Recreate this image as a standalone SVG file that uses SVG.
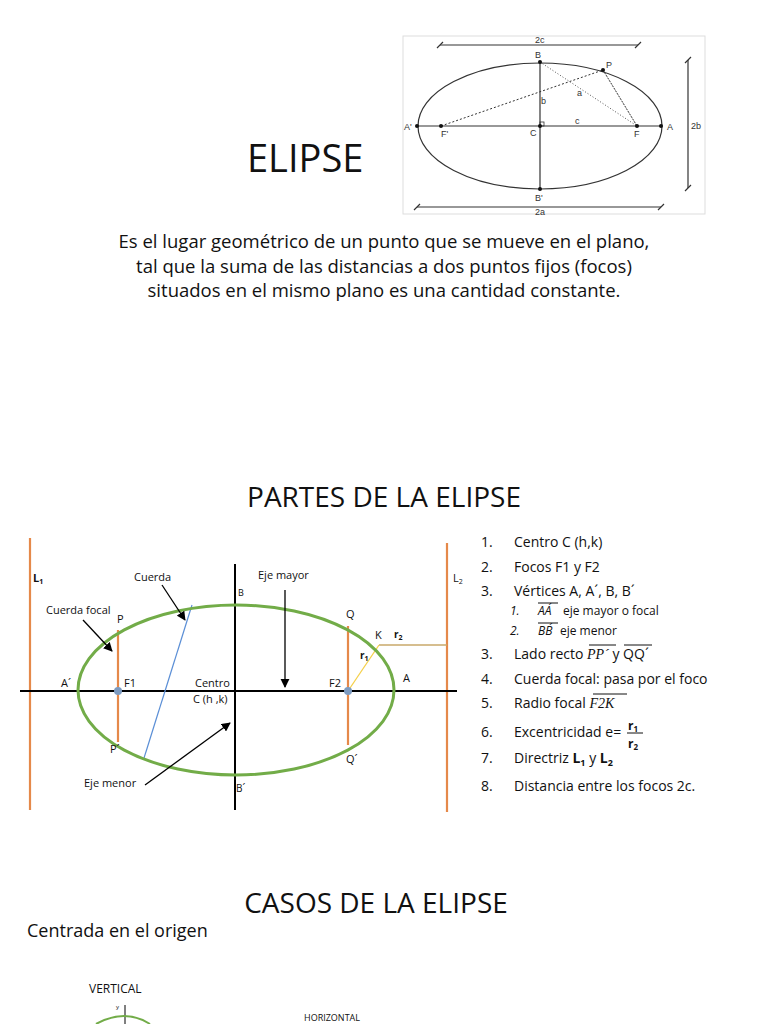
<svg xmlns="http://www.w3.org/2000/svg" width="768" height="1024" viewBox="0 0 768 1024">
<style>
text{font-family:"Open Sans","Noto Sans",sans-serif;fill:#111}
.s{font-family:"Liberation Sans",sans-serif;font-size:9px;fill:#333}
.k{stroke:#333;stroke-width:1.2;fill:none}
.o{stroke:#e5894a;stroke-width:2.2;fill:none}
.lb{font-size:11px}
.li{font-size:14px}
</style>
<defs><marker id="ar" viewBox="0 0 10 10" refX="9" refY="5" markerWidth="7" markerHeight="7" orient="auto"><path d="M0,0L10,5L0,10z" fill="#000"/></marker></defs>
<rect width="768" height="1024" fill="#fff"/>
<text x="247" y="172" font-size="38">ELIPSE</text>
<g id="fig1">
<rect x="403" y="36" width="302" height="178" fill="#fff" stroke="#ddd"/>
<ellipse class="k" cx="540" cy="126" rx="122" ry="63"/>
<line class="k" x1="417" y1="126" x2="661" y2="126"/>
<line class="k" x1="540" y1="62" x2="540" y2="189"/>
<line x1="441" y1="126" x2="603" y2="70" stroke="#333" stroke-dasharray="2,2"/>
<line x1="603" y1="70" x2="637" y2="126" stroke="#333" stroke-dasharray="2,1"/>
<line x1="540" y1="62" x2="637" y2="126" stroke="#555" stroke-dasharray="1,2"/>
<rect x="540" y="122" width="4" height="4" fill="none" stroke="#333" stroke-width="0.8"/>
<g fill="#111"><circle cx="417" cy="126" r="2"/><circle cx="441" cy="126" r="2"/><circle cx="540" cy="126" r="2"/><circle cx="637" cy="126" r="2"/><circle cx="661" cy="126" r="2"/><circle cx="540" cy="62" r="2"/><circle cx="540" cy="189" r="2"/><circle cx="603" cy="70" r="2"/></g>
<line class="k" x1="440" y1="45" x2="638" y2="45"/>
<line class="k" x1="417" y1="207" x2="661" y2="207"/>
<line class="k" x1="688" y1="60" x2="688" y2="188"/>
<path class="k" d="M437,48l6,-6M635,48l6,-6M414,210l6,-6M658,210l6,-6M685,63l6,-6M685,191l6,-6"/>
<text class="s" x="535" y="43">2c</text><text class="s" x="535" y="58">B</text><text class="s" x="606" y="68">P</text>
<text class="s" x="577" y="96">a</text><text class="s" x="541" y="104">b</text><text class="s" x="575" y="124">c</text>
<text class="s" x="404" y="130">A'</text><text class="s" x="441" y="137">F'</text><text class="s" x="530" y="136">C</text>
<text class="s" x="634" y="137">F</text><text class="s" x="667" y="130">A</text><text class="s" x="691" y="129">2b</text>
<text class="s" x="535" y="201">B'</text><text class="s" x="535" y="215">2a</text>
</g>
<text x="384" y="248" font-size="18.5" text-anchor="middle">Es el lugar geométrico de un punto que se mueve en el plano,</text>
<text x="384" y="273" font-size="18.5" text-anchor="middle">tal que la suma de las distancias a dos puntos fijos (focos)</text>
<text x="384" y="297" font-size="18.5" text-anchor="middle">situados en el mismo plano es una cantidad constante.</text>
<text x="384" y="507" font-size="28" text-anchor="middle">PARTES DE LA ELIPSE</text>
<g id="fig2">
<line class="o" x1="30" y1="538" x2="30" y2="810"/>
<line class="o" x1="447" y1="543" x2="447" y2="812"/>
<line x1="20" y1="691" x2="457" y2="691" stroke="#000" stroke-width="2"/>
<line x1="235" y1="564" x2="235" y2="810" stroke="#000" stroke-width="2"/>
<line class="o" x1="118" y1="630" x2="118" y2="742"/>
<line class="o" x1="348" y1="626" x2="348" y2="745"/>
<line x1="379" y1="645" x2="447" y2="645" stroke="#c9a96a" stroke-width="1.3"/>
<line x1="348" y1="691" x2="379" y2="645" stroke="#f5d04a" stroke-width="1.3"/>
<line x1="192" y1="605" x2="144" y2="758" stroke="#5b8fd6" stroke-width="1.2"/>
<ellipse cx="236" cy="690" rx="158" ry="85" fill="none" stroke="#72ac48" stroke-width="3"/>
<circle cx="118" cy="691" r="4" fill="#7d9bc1"/><circle cx="348" cy="691" r="4" fill="#7d9bc1"/>
</g>
<g id="connectors" stroke="#000" stroke-width="1.3" fill="none" marker-end="url(#ar)">
<line x1="162" y1="585" x2="185" y2="620"/>
<line x1="83" y1="620" x2="112" y2="651"/>
<line x1="285" y1="590" x2="285" y2="687"/>
<line x1="145" y1="785" x2="230" y2="723"/>
</g>
<g id="labels2" class="lb">
<text x="33" y="582" font-weight="bold">L<tspan font-size="7" dy="2">1</tspan></text>
<text x="453" y="582">L<tspan font-size="7" dy="2">2</tspan></text>
<text x="134" y="581">Cuerda</text><text x="258" y="579">Eje mayor</text>
<text x="46" y="614">Cuerda focal</text><text x="117" y="623">P</text>
<text x="346" y="618">Q</text><text x="375" y="639">K</text>
<text x="394" y="638" font-weight="bold" font-size="10">r<tspan font-size="7" dy="2">2</tspan></text>
<text x="360" y="659" font-weight="bold" font-size="10">r<tspan font-size="7" dy="2">1</tspan></text>
<text x="61" y="687">A´</text><text x="124" y="687">F1</text>
<text x="195" y="687">Centro</text><text x="193" y="703">C (h ,k)</text>
<text x="329" y="687">F2</text><text x="403" y="682">A</text>
<text x="238" y="596" font-size="9">B</text>
<text x="110" y="753">P´</text><text x="346" y="763">Q´</text>
<text x="84" y="787">Eje menor</text><text x="236" y="792" font-size="10">B´</text>
</g>
<g id="list" class="li">
<text x="481" y="547">1.</text><text x="514" y="547">Centro C (h,k)</text>
<text x="481" y="572">2.</text><text x="514" y="572">Focos F1 y F2</text>
<text x="481" y="596">3.</text><text x="514" y="596">Vértices A, A´, B, B´</text>
<text x="510" y="615" font-size="12" font-style="italic" font-family="Liberation Serif,serif">1.</text>
<text x="538" y="615" font-size="12" font-style="italic" font-family="Liberation Serif,serif">AA´</text>
<line x1="538" y1="603" x2="558" y2="603" stroke="#111"/>
<text x="563" y="615" font-size="12">eje mayor o focal</text>
<text x="510" y="635" font-size="12" font-style="italic" font-family="Liberation Serif,serif">2.</text>
<text x="538" y="635" font-size="12" font-style="italic" font-family="Liberation Serif,serif">BB´</text>
<line x1="538" y1="623" x2="558" y2="623" stroke="#111"/>
<text x="560" y="635" font-size="12">eje menor</text>
<text x="481" y="659">3.</text><text x="514" y="659">Lado recto <tspan font-style="italic" font-family="Liberation Serif,serif">PP´</tspan> y QQ´</text>
<line x1="589" y1="645" x2="616" y2="645" stroke="#111"/><line x1="624" y1="645" x2="652" y2="645" stroke="#111"/>
<text x="481" y="684">4.</text><text x="514" y="684">Cuerda focal: pasa por el foco</text>
<text x="481" y="708">5.</text><text x="514" y="708">Radio focal <tspan font-style="italic" font-family="Liberation Serif,serif">F2K</tspan></text>
<line x1="593" y1="694" x2="627" y2="694" stroke="#111"/>
<text x="481" y="737">6.</text><text x="514" y="737">Excentricidad e=</text>
<text x="628" y="730" font-size="12" font-weight="bold">r<tspan font-size="8" dy="2">1</tspan></text>
<line x1="627" y1="733" x2="643" y2="733" stroke="#111"/>
<text x="628" y="748" font-size="12" font-weight="bold">r<tspan font-size="8" dy="2">2</tspan></text>
<text x="481" y="763">7.</text><text x="514" y="763">Directriz <tspan font-weight="bold">L<tspan font-size="9" dy="3">1</tspan></tspan><tspan dy="-3"> y </tspan><tspan font-weight="bold">L<tspan font-size="9" dy="3">2</tspan></tspan></text>
<text x="481" y="791">8.</text><text x="514" y="791">Distancia entre los focos 2c.</text>
</g>
<text x="376" y="913" font-size="28" text-anchor="middle">CASOS DE LA ELIPSE</text>
<text x="27" y="937" font-size="18">Centrada en el origen</text>
<g id="fig3">
<text x="89" y="993" font-size="12">VERTICAL</text>
<text x="116" y="1009" font-size="6">y</text>
<line x1="125" y1="1005" x2="125" y2="1024" stroke="#000"/>
<path d="M96,1024Q125,1008 150,1024" fill="none" stroke="#72ac48" stroke-width="2"/>
<text x="304" y="1021" font-size="9">HORIZONTAL</text>
</g>
</svg>
